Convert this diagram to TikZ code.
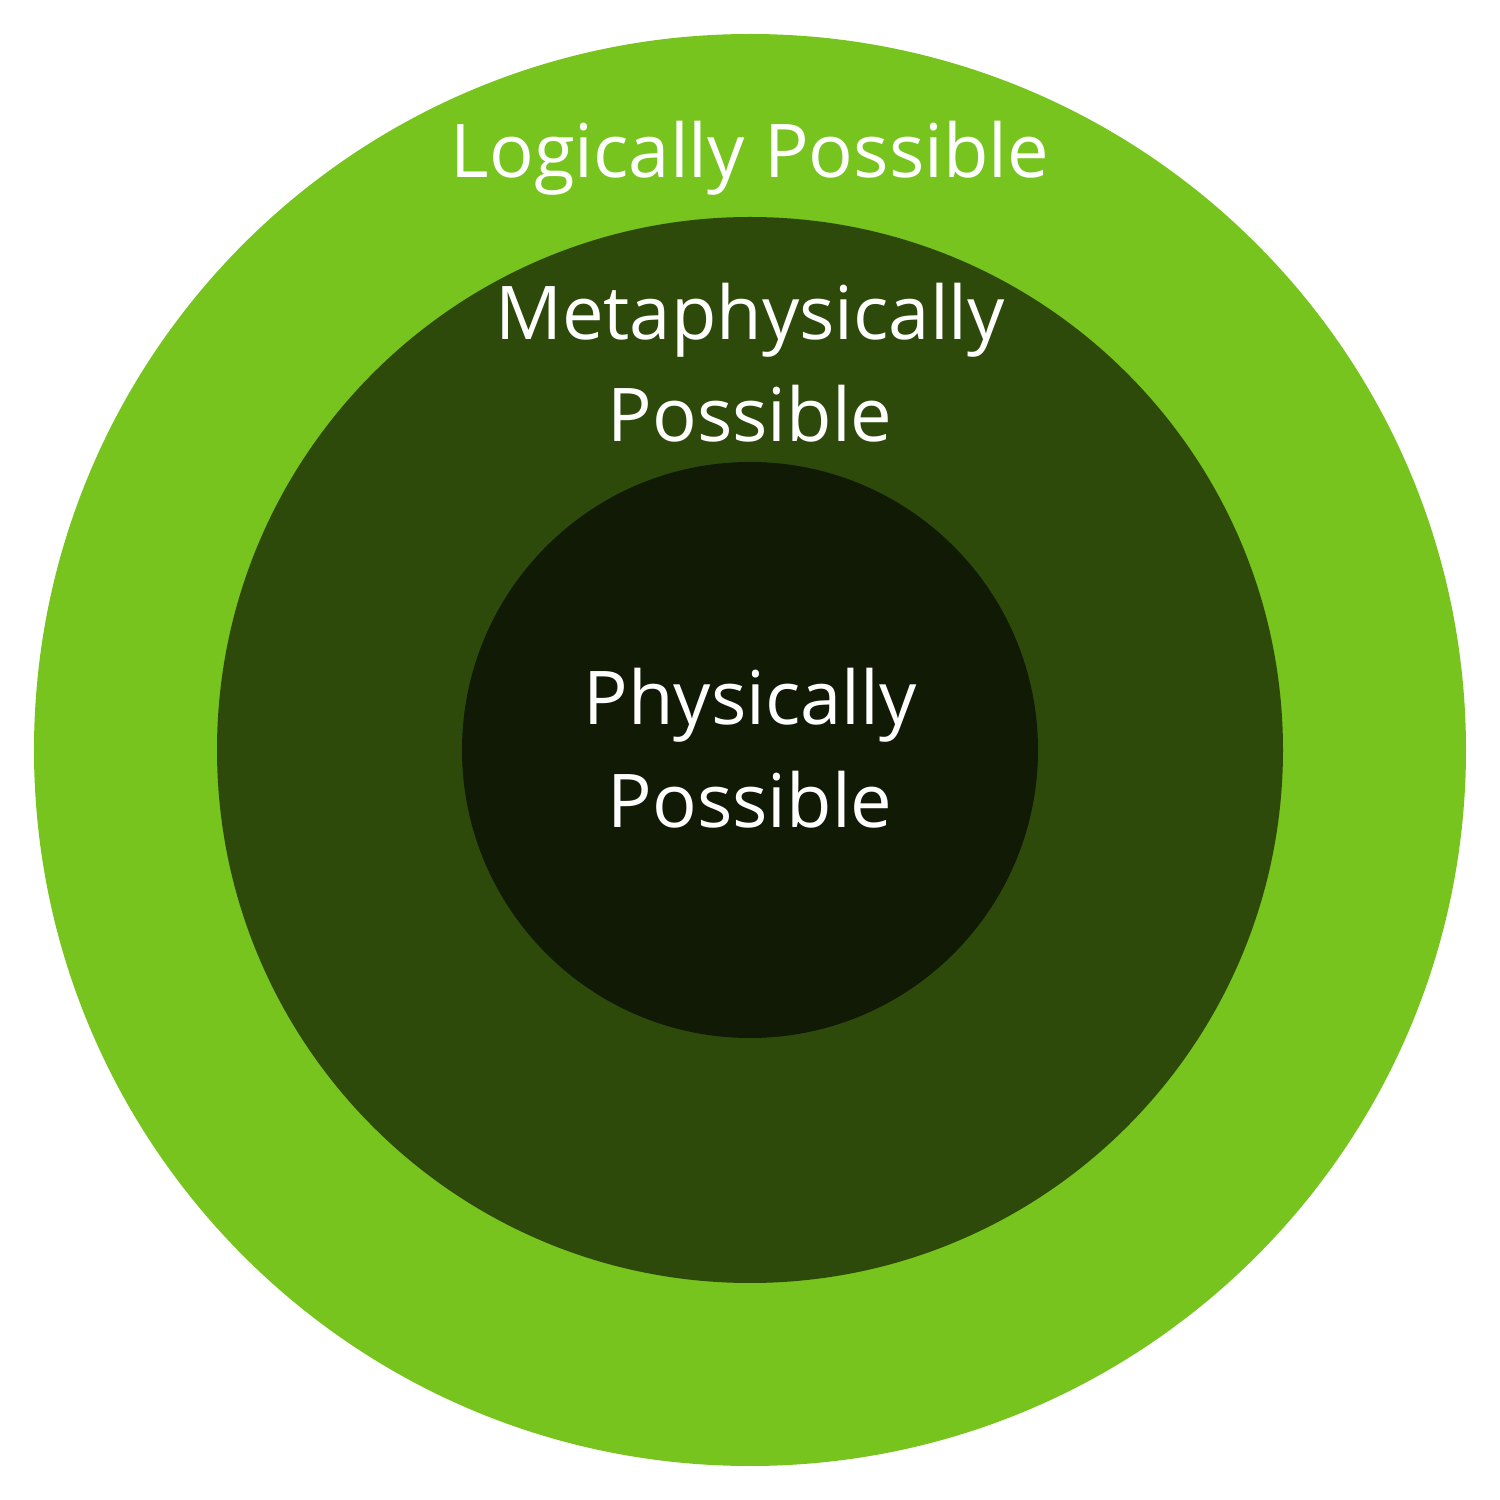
\documentclass[tikz,border=0pt]{standalone}
\usepackage{fontspec}
\setmainfont{Open Sans}
\definecolor{outerg}{HTML}{76C41D}
\definecolor{midg}{HTML}{2D4A0B}
\definecolor{inng}{HTML}{101A05}
\begin{document}
\begin{tikzpicture}
\useasboundingbox (0,0) rectangle (15,15);
\tikzset{lbl/.style={text=white,font=\fontsize{21.1pt}{25pt}\selectfont,inner sep=0pt,anchor=base}}
\fill[outerg] (7.5,7.5) circle (7.16);
\fill[midg] (7.5,7.5) circle (5.33);
\fill[inng] (7.5,7.5) circle (2.88);
\node[lbl] (lp) at (7.5,13.22) {Logically Possible};
\node[lbl] (mp1) at (7.5,11.6) {Metaphysically};
\node[lbl] (mp2) at (7.5,10.58) {Possible};
\node[lbl] (pp1) at (7.5,7.75) {Physically};
\node[lbl] (pp2) at (7.5,6.72) {Possible};
\end{tikzpicture}
\end{document}
